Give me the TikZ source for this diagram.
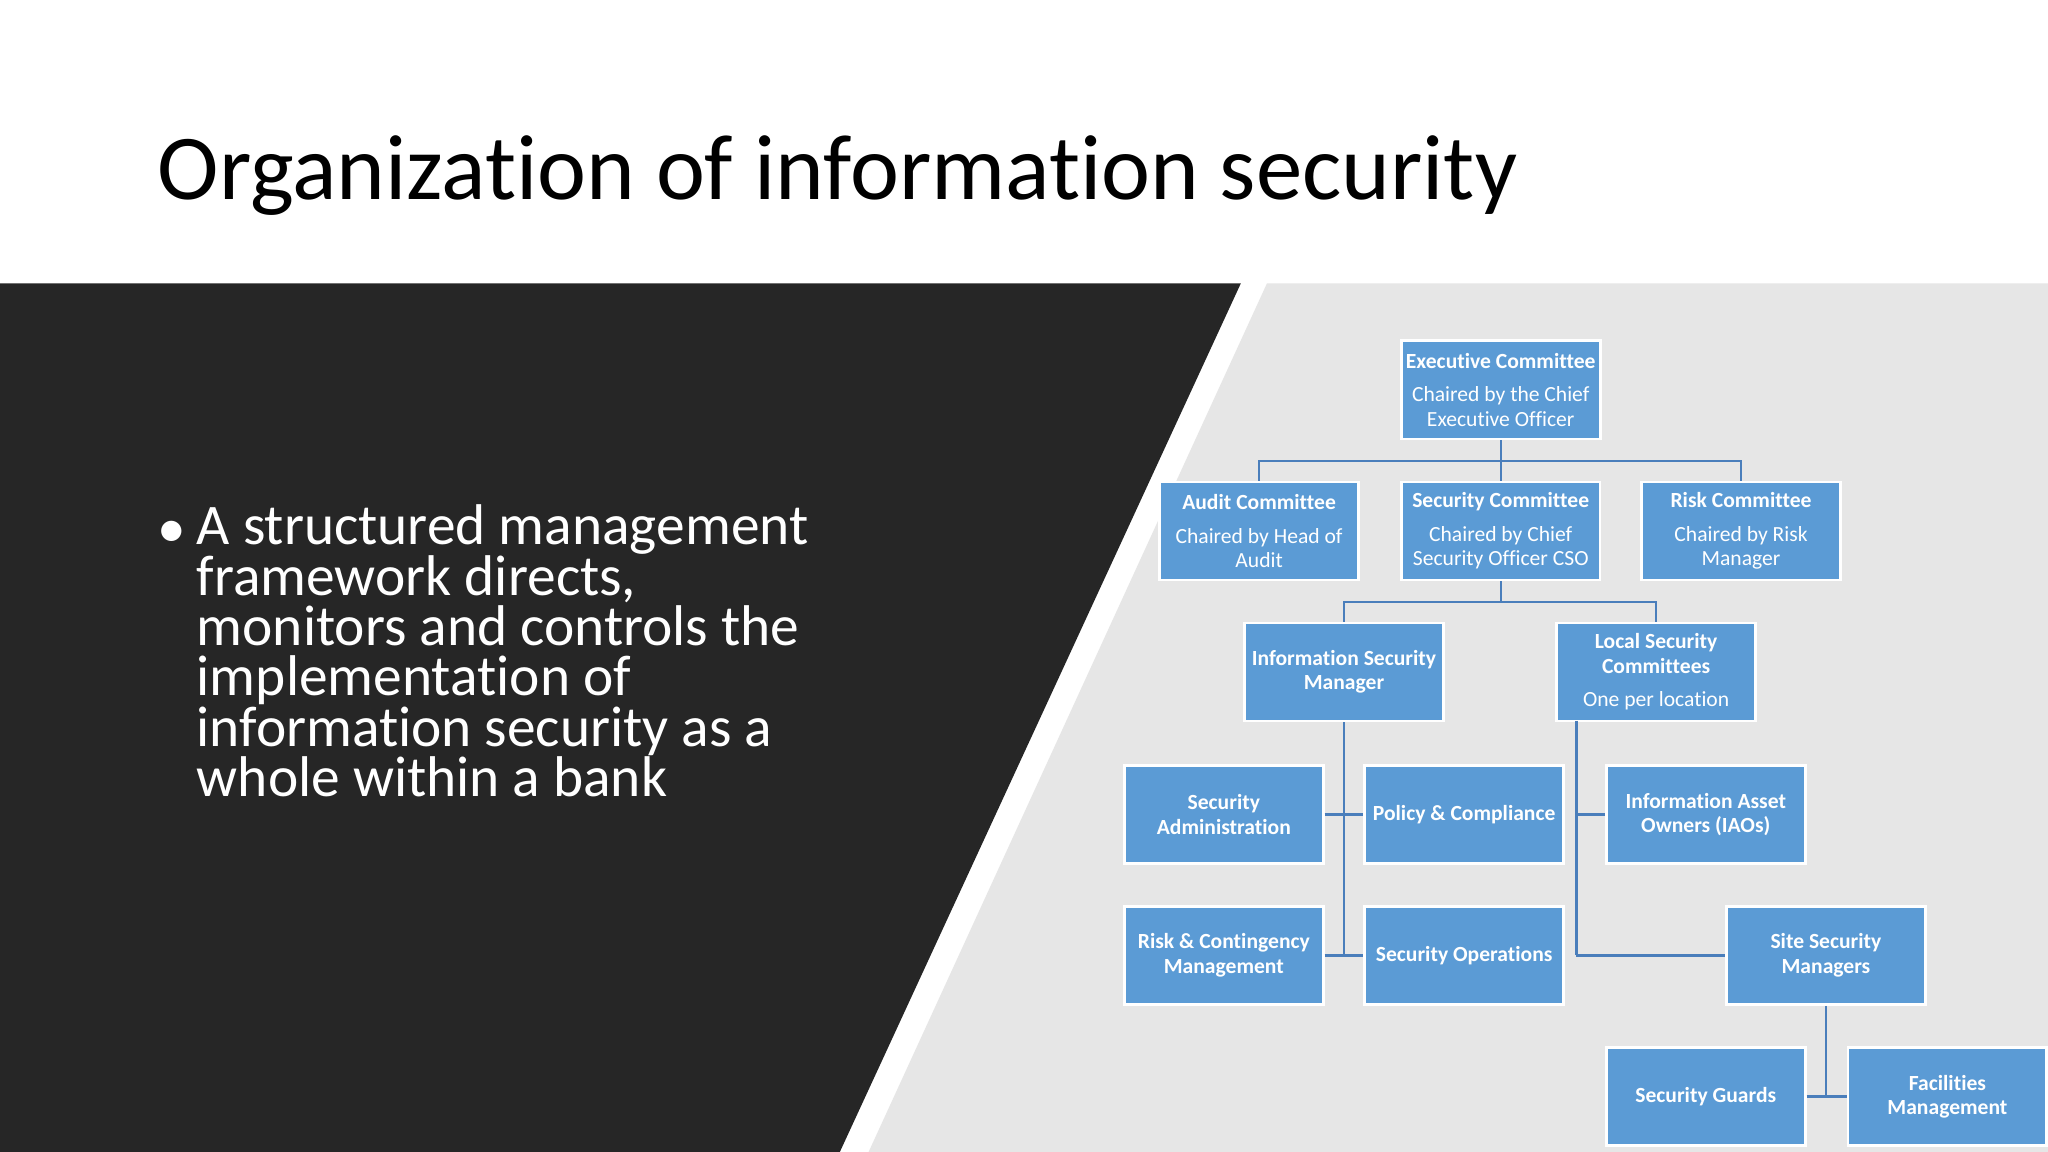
\documentclass[tikz,border=0pt]{standalone}
\usepackage{fontspec}
\setmainfont[Ligatures=NoCommon]{Carlito}
\definecolor{dark}{HTML}{262626}
\definecolor{lgray}{HTML}{E6E6E6}
\definecolor{boxblue}{HTML}{5B9BD5}
\definecolor{lineblue}{HTML}{4A7EBB}
\tikzset{
  orgbox/.style={fill=boxblue,draw=white,line width=0.6pt,minimum width=1.52cm,minimum height=0.75cm,
    text=white,align=center,inner sep=1pt,font=\fontsize{4.7}{5.3}\selectfont},
  conn/.style={draw=lineblue,line width=0.5pt}
}
\newcommand{\hd}[1]{\textbf{#1}}
\begin{document}
\begin{tikzpicture}[x=0.01cm,y=-0.01cm]
\useasboundingbox (0,0) rectangle (1568,882);
\fill[white] (0,0) rectangle (1568,882);
\fill[dark] (0,217) -- (950,217) -- (643,882) -- (0,882) -- cycle;
\fill[lgray] (970,217) -- (1568,217) -- (1568,882) -- (665,882) -- cycle;
\node[anchor=base west,inner sep=0pt,font=\fontsize{20.2}{24}\selectfont,text=black] (title) at (120,153) {Organization of information security};
\node[anchor=base west,inner sep=0pt,font=\fontsize{12.5}{11}\selectfont,text=white] (bul) at (120,419) {\textbullet};
\node[anchor=north west,inner sep=0pt,align=left,font=\fontsize{12.5}{10.95}\selectfont,text=white] (btext) at (150,386) {A structured management\\framework directs,\\monitors and controls the\\implementation of\\information security as a\\whole within a bank};
\node[orgbox] (exec) at (1149,298.5) {\hd{Executive Committee}\\[2pt]Chaired by the Chief\\Executive Officer};
\node[orgbox] (audit) at (964,406.5) {\hd{Audit Committee}\\[2pt]Chaired by Head of\\Audit};
\node[orgbox] (secc) at (1149,406.5) {\hd{Security Committee}\\[2pt]Chaired by Chief\\Security Officer CSO};
\node[orgbox] (risk) at (1333,406.5) {\hd{Risk Committee}\\[2pt]Chaired by Risk\\Manager};
\node[orgbox] (ism) at (1029,514.5) {\hd{Information Security}\\\hd{Manager}};
\node[orgbox] (local) at (1268,514.5) {\hd{Local Security}\\\hd{Committees}\\[2pt]One per location};
\node[orgbox] (sadm) at (937,623.5) {\hd{Security}\\\hd{Administration}};
\node[orgbox] (pol) at (1121,623.5) {\hd{Policy \& Compliance}};
\node[orgbox] (iao) at (1306,623.5) {\hd{Information Asset}\\\hd{Owners (IAOs)}};
\node[orgbox] (rcm) at (937,731.5) {\hd{Risk \& Contingency}\\\hd{Management}};
\node[orgbox] (sops) at (1121,731.5) {\hd{Security Operations}};
\node[orgbox] (site) at (1398,731.5) {\hd{Site Security}\\\hd{Managers}};
\node[orgbox] (guards) at (1306,839.5) {\hd{Security Guards}};
\node[orgbox] (fac) at (1491,839.5) {\hd{Facilities}\\\hd{Management}};

\draw[conn] (exec.south) -- ++(0,16) coordinate (j1);
\draw[conn] (audit.north) |- (j1) -| (risk.north);
\draw[conn] (j1) -- (secc.north);
\draw[conn] (secc.south) -- ++(0,16) coordinate (j2);
\draw[conn] (ism.north) |- (j2) -| (local.north);
\draw[conn] (ism.south) -- (1029,731.5) coordinate (j3);
\draw[conn] (sadm.east) -- (pol.west);
\draw[conn] (rcm.east) -- (sops.west);
\draw[conn] (1207,552) coordinate (j4) -- (1207,731.5) coordinate (j5);
\draw[conn] (1207,623.5) -- (iao.west);
\draw[conn] (j5) -- (site.west);
\draw[conn] (site.south) -- (1398,839.5) coordinate (j6);
\draw[conn] (guards.east) -- (fac.west);
\end{tikzpicture}
\end{document}
